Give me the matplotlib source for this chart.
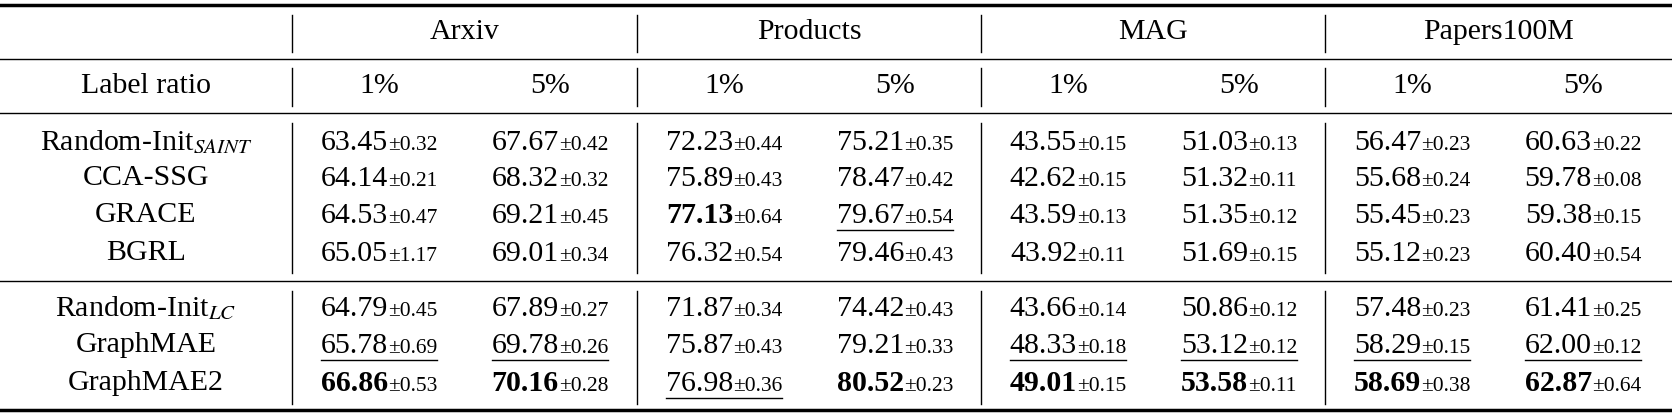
import matplotlib
matplotlib.use("Agg")
import matplotlib.pyplot as plt

plt.rcParams['font.family'] = ['Liberation Serif', 'DejaVu Serif']
plt.rcParams['mathtext.fontset'] = 'stix'

datasets = ["Arxiv", "Products", "MAG", "Papers100M"]
ratios = ["1%", "5%"]
methods = ["Random-Init$_{SAINT}$", "CCA-SSG", "GRACE", "BGRL",
           "Random-Init$_{LC}$", "GraphMAE", "GraphMAE2"]
means = [
    ["63.45", "67.67", "72.23", "75.21", "43.55", "51.03", "56.47", "60.63"],
    ["64.14", "68.32", "75.89", "78.47", "42.62", "51.32", "55.68", "59.78"],
    ["64.53", "69.21", "77.13", "79.67", "43.59", "51.35", "55.45", "59.38"],
    ["65.05", "69.01", "76.32", "79.46", "43.92", "51.69", "55.12", "60.40"],
    ["64.79", "67.89", "71.87", "74.42", "43.66", "50.86", "57.48", "61.41"],
    ["65.78", "69.78", "75.87", "79.21", "48.33", "53.12", "58.29", "62.00"],
    ["66.86", "70.16", "76.98", "80.52", "49.01", "53.58", "58.69", "62.87"],
]
stds = [
    ["0.32", "0.42", "0.44", "0.35", "0.15", "0.13", "0.23", "0.22"],
    ["0.21", "0.32", "0.43", "0.42", "0.15", "0.11", "0.24", "0.08"],
    ["0.47", "0.45", "0.64", "0.54", "0.13", "0.12", "0.23", "0.15"],
    ["1.17", "0.34", "0.54", "0.43", "0.11", "0.15", "0.23", "0.54"],
    ["0.45", "0.27", "0.34", "0.43", "0.14", "0.12", "0.23", "0.25"],
    ["0.69", "0.26", "0.43", "0.33", "0.18", "0.12", "0.15", "0.12"],
    ["0.53", "0.28", "0.36", "0.23", "0.15", "0.11", "0.38", "0.64"],
]
bold = {(2, 2), (6, 0), (6, 1), (6, 3), (6, 4), (6, 5), (6, 6), (6, 7)}
underline = {(2, 3), (5, 0), (5, 1), (5, 4), (5, 5), (5, 6), (5, 7), (6, 2)}

W, H = 1672, 415
fig = plt.figure(figsize=(W / 100, H / 100), dpi=100)
ax = fig.add_axes([0, 0, 1, 1])
ax.set_xlim(0, W)
ax.set_ylim(H, 0)
ax.axis('off')

vlines = [292, 637, 981, 1325]
row_y = [142, 178, 215, 253, 308, 345, 383]
FS, SFS = 21.5, 15.5

ax.plot([0, W], [5, 5], color='black', lw=2.5)
for y in (59, 113, 281):
    ax.plot([0, W], [y, y], color='black', lw=1.0)
ax.plot([0, W], [410, 410], color='black', lw=2.5)
for x in vlines:
    for y0, y1 in ((15, 52), (68, 106), (123, 273), (291, 404)):
        ax.plot([x, x], [y0, y1], color='black', lw=1.0)

for i, d in enumerate(datasets):
    x0 = vlines[i]
    x1 = vlines[i + 1] if i + 1 < len(vlines) else W
    ax.text((x0 + x1) / 2, 32, d, fontsize=FS, ha='center', va='center')
    for j, r in enumerate(ratios):
        ax.text(x0 + 87 + j * 171, 86, r, fontsize=FS, ha='center', va='center')
ax.text(146, 86, "Label ratio", fontsize=FS, ha='center', va='center')

fig.canvas.draw()
renderer = fig.canvas.get_renderer()
inv = ax.transData.inverted()

def width(t):
    bb = t.get_window_extent(renderer)
    p0 = inv.transform((bb.x0, bb.y0))
    p1 = inv.transform((bb.x1, bb.y0))
    return p1[0] - p0[0]

for r, m in enumerate(methods):
    y = row_y[r]
    ax.text(146, y, m, fontsize=FS, ha='center', va='center')
    for c in range(8):
        cx = vlines[c // 2] + 87 + (c % 2) * 171
        t1 = ax.text(0, y + 8, means[r][c], fontsize=FS, ha='left', va='baseline',
                     fontweight='bold' if (r, c) in bold else 'normal')
        t2 = ax.text(0, y + 8, "\u00b1" + stds[r][c], fontsize=SFS, ha='left', va='baseline')
        w1, w2 = width(t1), width(t2)
        left = cx - (w1 + w2) / 2
        t1.set_x(left)
        t2.set_x(left + w1)
        if (r, c) in underline:
            ax.plot([left, left + w1 + w2], [y + 15, y + 15], color='black', lw=1.0)

fig.savefig("out.png", dpi=100)
